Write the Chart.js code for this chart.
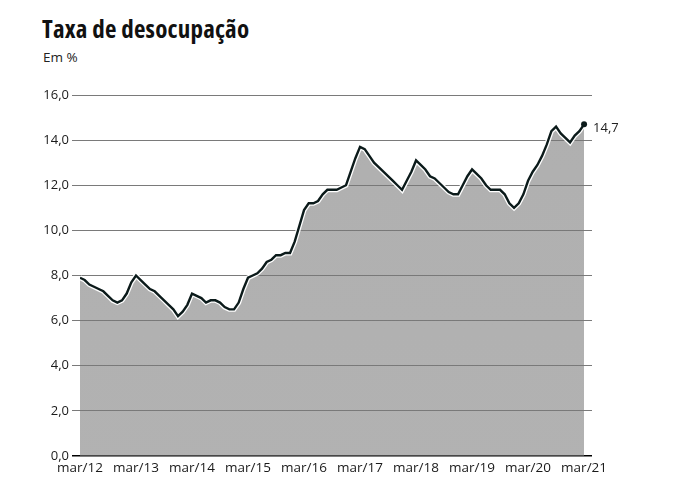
<!DOCTYPE html>
<html>
<head>
<meta charset="utf-8">
<script src="https://cdn.jsdelivr.net/npm/chart.js@4.4.1/dist/chart.umd.min.js"></script>
<style>
  html, body { margin: 0; padding: 0; background: #fff; }
  body { width: 691px; height: 483px; position: relative; overflow: hidden; font-family: 'Open Sans', sans-serif; color: #111; }
  .title { position: absolute; left: 42px; top: 11px; font-size: 25px; font-weight: 700; font-stretch: 87.5%; letter-spacing: 0.2px; }
  .subtitle { position: absolute; left: 43px; top: 48px; font-size: 13.5px; color: #222; }
  .wrap { position: absolute; left: 0; top: 0; width: 691px; height: 483px; }
</style>
</head>
<body>
<div class="title">Taxa de desocupação</div>
<div class="subtitle">Em %</div>
<div class="wrap"><canvas id="chart"></canvas></div>
<script>
// Taxa de desocupação, trimestre móvel (mar/12 a mar/21)
const monthNames = ['jan', 'fev', 'mar', 'abr', 'mai', 'jun', 'jul', 'ago', 'set', 'out', 'nov', 'dez'];
const months = [];
for (let y = 12; y <= 21; y++) {
    monthNames.forEach((m, i) => {
        if ((y === 12 && i < 2) || (y === 21 && i > 2)) return;
        months.push(m + '/' + y);
    });
}

const rate = [
    7.9, 7.8, 7.6, 7.5, 7.4, 7.3, 7.1, 6.9, 6.8, 6.9,
    7.2, 7.7, 8.0, 7.8, 7.6, 7.4, 7.3, 7.1, 6.9, 6.7, 6.5, 6.2,
    6.4, 6.7, 7.2, 7.1, 7.0, 6.8, 6.9, 6.9, 6.8, 6.6, 6.5, 6.5,
    6.8, 7.4, 7.9, 8.0, 8.1, 8.3, 8.6, 8.7, 8.9, 8.9, 9.0, 9.0,
    9.5, 10.2, 10.9, 11.2, 11.2, 11.3, 11.6, 11.8, 11.8, 11.8, 11.9, 12.0,
    12.6, 13.2, 13.7, 13.6, 13.3, 13.0, 12.8, 12.6, 12.4, 12.2, 12.0, 11.8,
    12.2, 12.6, 13.1, 12.9, 12.7, 12.4, 12.3, 12.1, 11.9, 11.7, 11.6, 11.6,
    12.0, 12.4, 12.7, 12.5, 12.3, 12.0, 11.8, 11.8, 11.8, 11.6, 11.2, 11.0,
    11.2, 11.6, 12.2, 12.6, 12.9, 13.3, 13.8, 14.4, 14.6, 14.3, 14.1, 13.9,
    14.2, 14.4, 14.7
];

const yTicks = [0, 2, 4, 6, 8, 10, 12, 14, 16];

// one x tick per March
const xTickIdx = months.map((m, i) => m.startsWith('mar/') ? i : -1).filter(i => i >= 0);
const points = rate.map((v, i) => ({ x: i, y: v }));
const lastIdx = rate.length - 1;

const fmt = v => v.toFixed(1).replace('.', ',');

const endLabel = {
    id: 'endLabel',
    afterDatasetsDraw(chart) {
        const el = chart.getDatasetMeta(0).data[lastIdx];
        const ctx = chart.ctx;
        ctx.save();
        ctx.font = '13px "Open Sans"';
        ctx.fillStyle = '#222';
        ctx.textAlign = 'left';
        ctx.textBaseline = 'middle';
        ctx.fillText(fmt(rate[lastIdx]), el.x + 9, el.y + 4);
        ctx.restore();
    }
};

const ctx = document.getElementById('chart').getContext('2d');
const grad = ctx.createLinearGradient(0, 95, 0, 456);
grad.addColorStop(0, 'rgba(118, 118, 118, 0.58)');
grad.addColorStop(1, 'rgba(122, 122, 122, 0.58)');

new Chart(ctx, {
    type: 'line',
    data: {
        datasets: [
            {
                data: points,
                borderColor: '#0b1a1a',
                borderWidth: 2.4,
                fill: false,
                tension: 0,
                pointRadius: c => c.dataIndex === lastIdx ? 3 : 0,
                pointBackgroundColor: '#0b1a1a',
                pointBorderWidth: 0
            },
            {
                data: points,
                borderColor: '#ffffff',
                borderWidth: 5,
                backgroundColor: grad,
                fill: 'origin',
                tension: 0,
                pointRadius: 0
            }
        ]
    },
    options: {
        responsive: true,
        maintainAspectRatio: false,
        animation: false,
        layout: { padding: { top: 95, right: 99, left: 0, bottom: 0 } },
        plugins: {
            legend: { display: false },
            tooltip: { enabled: false }
        },
        scales: {
            x: {
                type: 'linear',
                min: 0,
                max: lastIdx + 1.7,
                afterBuildTicks: s => { s.ticks = xTickIdx.map(v => ({ value: v })); },
                afterFit: s => { s.height = 27; },
                ticks: {
                    autoSkip: false,
                    maxRotation: 0,
                    padding: 4,
                    color: '#1a1a1a',
                    font: { family: 'Open Sans', size: 13.5 },
                    callback: v => months[v]
                },
                grid: { display: false, drawTicks: false },
                border: { display: false }
            },
            y: {
                min: 0,
                max: 16,
                afterBuildTicks: s => { s.ticks = yTicks.map(v => ({ value: v })); },
                afterFit: s => { s.width = 80; },
                ticks: {
                    padding: 3,
                    color: '#1a1a1a',
                    font: { family: 'Open Sans', size: 13 },
                    callback: v => fmt(v)
                },
                grid: {
                    color: c => c.tick && c.tick.value === 0 ? '#000000' : '#7a7a7a',
                    lineWidth: c => c.tick && c.tick.value === 0 ? 1.5 : 1,
                    tickLength: 8
                },
                border: { display: false }
            }
        }
    },
    plugins: [endLabel]
});
</script>
</body>
</html>
